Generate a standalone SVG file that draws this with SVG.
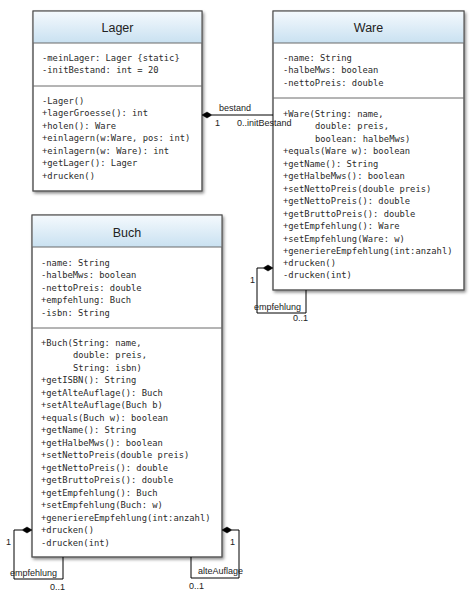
<svg xmlns="http://www.w3.org/2000/svg" width="474" height="596" viewBox="0 0 474 596">
<defs>
<linearGradient id="hdr" x1="0" y1="0" x2="0" y2="1">
<stop offset="0" stop-color="#f4f9fd"/>
<stop offset="1" stop-color="#c9e1f1"/>
</linearGradient>
<filter id="sh" x="-10%" y="-10%" width="125%" height="125%">
<feDropShadow dx="1.5" dy="2" stdDeviation="1.5" flood-color="#000" flood-opacity="0.45"/>
</filter>
</defs>
<style>
.box{fill:#fff;stroke:#5a5a5a;stroke-width:1}
.hdr{fill:url(#hdr);stroke:none}
.div{stroke:#6a6a6a;stroke-width:1}
.title{font-family:"Liberation Sans",Arial,sans-serif;font-size:12.5px;fill:#222;text-anchor:middle}
.m{font-family:"DejaVu Sans Mono","Liberation Mono",monospace;font-size:8.8px;fill:#2a2a2a}
.lbl{font-family:"Liberation Sans",Arial,sans-serif;font-size:9px;fill:#222}
.ln{fill:none;stroke:#000;stroke-width:1}
.dia{fill:#000;stroke:#000;stroke-width:0.5}
</style>
<rect width="474" height="596" fill="#fff"/>

<g id="Lager">
<rect class="box" x="33" y="11" width="169" height="180" filter="url(#sh)"/>
<rect class="hdr" x="33.5" y="11.5" width="168" height="31.5"/>
<rect x="33" y="11" width="169" height="180" fill="none" stroke="#5a5a5a"/>
<line class="div" x1="33" y1="43" x2="202" y2="43"/>
<line class="div" x1="33" y1="86" x2="202" y2="86"/>
<text class="title" x="117.5" y="32">Lager</text>
<text class="m" x="42" y="60.5">-meinLager: Lager {static}</text>
<text class="m" x="42" y="73">-initBestand: int = 20</text>
<text class="m" x="42" y="103.5">-Lager()</text>
<text class="m" x="42" y="116">+lagerGroesse(): int</text>
<text class="m" x="42" y="128.5">+holen(): Ware</text>
<text class="m" x="42" y="141">+einlagern(w:Ware, pos: int)</text>
<text class="m" x="42" y="153.5">+einlagern(w: Ware): int</text>
<text class="m" x="42" y="166">+getLager(): Lager</text>
<text class="m" x="42" y="178.5">+drucken()</text>
</g>

<g id="Ware">
<rect class="box" x="273" y="11" width="191" height="279" filter="url(#sh)"/>
<rect class="hdr" x="273.5" y="11.5" width="190" height="31.5"/>
<rect x="273" y="11" width="191" height="279" fill="none" stroke="#5a5a5a"/>
<line class="div" x1="273" y1="43" x2="464" y2="43"/>
<line class="div" x1="273" y1="98" x2="464" y2="98"/>
<text class="title" x="368.5" y="32">Ware</text>
<text class="m" x="283" y="60.5">-name: String</text>
<text class="m" x="283" y="73">-halbeMws: boolean</text>
<text class="m" x="283" y="85.5">-nettoPreis: double</text>
<text class="m" x="283" y="116.5">+Ware(String: name,</text>
<text class="m" x="315" y="129">double: preis,</text>
<text class="m" x="315" y="141.5">boolean: halbeMws)</text>
<text class="m" x="283" y="154">+equals(Ware w): boolean</text>
<text class="m" x="283" y="166.5">+getName(): String</text>
<text class="m" x="283" y="179">+getHalbeMws(): boolean</text>
<text class="m" x="283" y="191.5">+setNettoPreis(double preis)</text>
<text class="m" x="283" y="204">+getNettoPreis(): double</text>
<text class="m" x="283" y="216.5">+getBruttoPreis(): double</text>
<text class="m" x="283" y="229">+getEmpfehlung(): Ware</text>
<text class="m" x="283" y="241.5">+setEmpfehlung(Ware: w)</text>
<text class="m" x="283" y="254">+generiereEmpfehlung(int:anzahl)</text>
<text class="m" x="283" y="266">+drucken()</text>
<text class="m" x="283" y="278">-drucken(int)</text>
</g>

<g id="Buch">
<rect class="box" x="32" y="215" width="190" height="342" filter="url(#sh)"/>
<rect class="hdr" x="32.5" y="215.5" width="189" height="31.5"/>
<rect x="32" y="215" width="190" height="342" fill="none" stroke="#5a5a5a"/>
<line class="div" x1="32" y1="247" x2="222" y2="247"/>
<line class="div" x1="32" y1="328" x2="222" y2="328"/>
<text class="title" x="127" y="236.5">Buch</text>
<text class="m" x="41" y="265.5">-name: String</text>
<text class="m" x="41" y="278">-halbeMws: boolean</text>
<text class="m" x="41" y="290.5">-nettoPreis: double</text>
<text class="m" x="41" y="303">+empfehlung: Buch</text>
<text class="m" x="41" y="315.5">-isbn: String</text>
<text class="m" x="41" y="345.5">+Buch(String: name,</text>
<text class="m" x="73" y="358">double: preis,</text>
<text class="m" x="73" y="370.5">String: isbn)</text>
<text class="m" x="41" y="383">+getISBN(): String</text>
<text class="m" x="41" y="395.5">+getAlteAuflage(): Buch</text>
<text class="m" x="41" y="408">+setAlteAuflage(Buch b)</text>
<text class="m" x="41" y="420.5">+equals(Buch w): boolean</text>
<text class="m" x="41" y="433">+getName(): String</text>
<text class="m" x="41" y="445.5">+getHalbeMws(): boolean</text>
<text class="m" x="41" y="458">+setNettoPreis(double preis)</text>
<text class="m" x="41" y="470.5">+getNettoPreis(): double</text>
<text class="m" x="41" y="483">+getBruttoPreis(): double</text>
<text class="m" x="41" y="495.5">+getEmpfehlung(): Buch</text>
<text class="m" x="41" y="508">+setEmpfehlung(Buch: w)</text>
<text class="m" x="41" y="520.5">+generiereEmpfehlung(int:anzahl)</text>
<text class="m" x="41" y="533">+drucken()</text>
<text class="m" x="41" y="545.5">-drucken(int)</text>
</g>

<g id="connectors">
<!-- bestand -->
<line class="ln" x1="212" y1="115" x2="273" y2="115"/>
<polygon class="dia" points="202,115 207,112 212,115 207,118"/>
<text class="lbl" x="219" y="111">bestand</text>
<text class="lbl" x="215" y="126">1</text>
<text class="lbl" x="237" y="126">0..initBestand</text>
<!-- Ware empfehlung -->
<polyline class="ln" points="263,268 257,268 257,313 306,313 306,290"/>
<polygon class="dia" points="273,268 268,265 263,268 268,271"/>
<text class="lbl" x="250" y="283">1</text>
<text class="lbl" x="254" y="310">empfehlung</text>
<text class="lbl" x="293" y="321">0..1</text>
<!-- Buch empfehlung -->
<polyline class="ln" points="22,530 14,530 14,579 63,579 63,557"/>
<polygon class="dia" points="32,530 27,527 22,530 27,533"/>
<text class="lbl" x="6" y="545">1</text>
<text class="lbl" x="10" y="576">empfehlung</text>
<text class="lbl" x="50" y="590">0..1</text>
<!-- Buch alteAuflage -->
<polyline class="ln" points="232,530 239,530 239,578 191,578 191,557"/>
<polygon class="dia" points="222,530 227,527 232,530 227,533"/>
<text class="lbl" x="230" y="545">1</text>
<text class="lbl" x="198" y="574">alteAuflage</text>
<text class="lbl" x="189" y="589">0..1</text>
</g>
</svg>
